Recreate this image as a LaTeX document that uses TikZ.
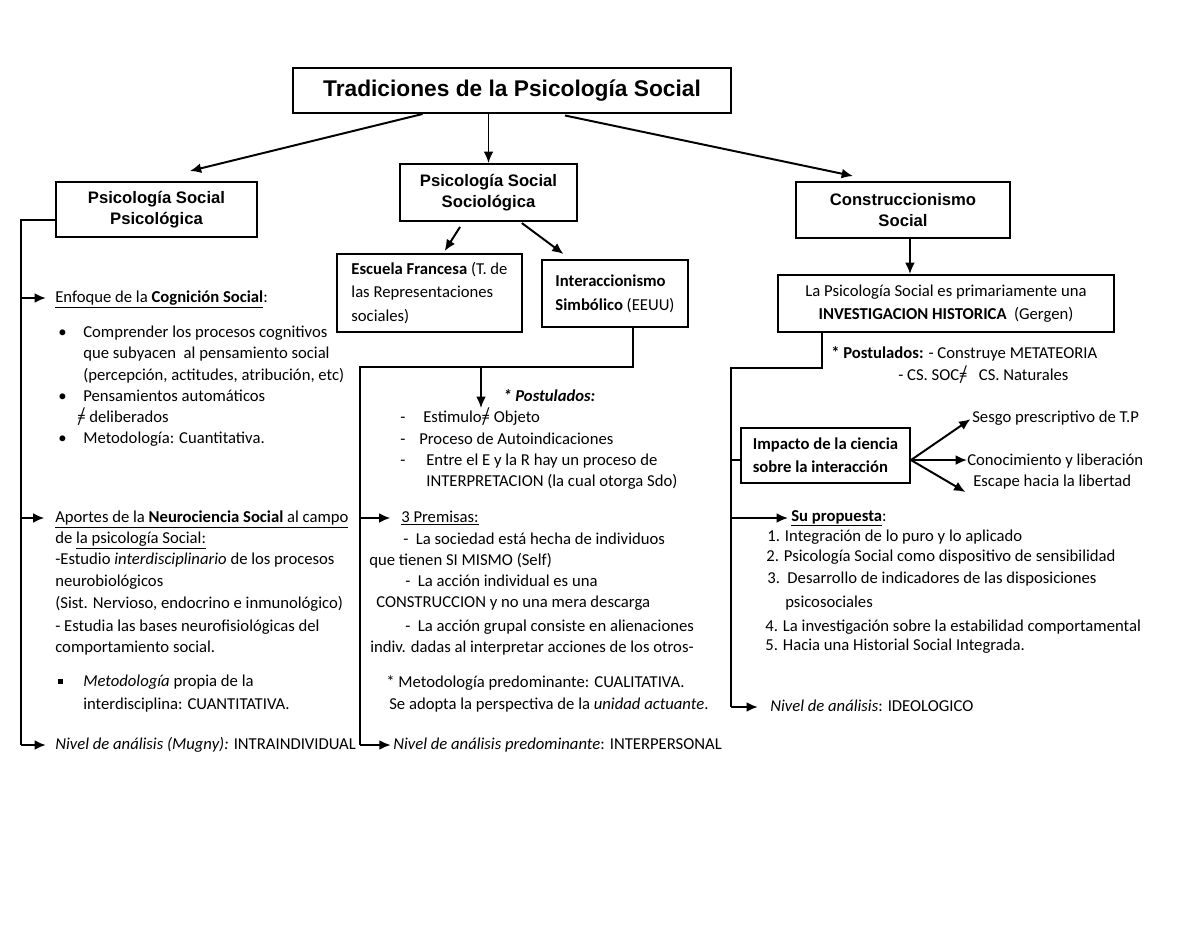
\documentclass[tikz,border=0pt]{standalone}
\usepackage{fontspec}
\setmainfont{Carlito}
\newfontfamily\arialf{Liberation Sans}
\usetikzlibrary{arrows.meta}
\newcommand\neqs{\ooalign{=\cr\hidewidth\raisebox{-1.8pt}{\scalebox{1.1}[1.45]{/}}\hidewidth\cr}}
\newcommand\sqbul{\rule[1.5pt]{3.2pt}{3.2pt}}
\begin{document}
\begin{tikzpicture}[x=0.66pt,y=-0.66pt,
  ln/.style={line width=1.3pt},
  arr/.style={line width=1.3pt,-{Latex[length=7.5pt,width=6.5pt]}},
  box/.style={draw,line width=1.3pt,inner sep=0pt},
  sz/.style 2 args={minimum width=#1*0.66pt,minimum height=#2*0.66pt},
  hdr/.style={box,font=\arialf\bfseries\fontsize{11}{14}\selectfont,align=center},
  inbox/.style={box,font=\fontsize{11}{15.5}\selectfont,align=left},
  txt/.style={anchor=base west,inner sep=0pt,font=\fontsize{11}{13}\selectfont},
]
\useasboundingbox (0,0) rectangle (1200,927);

% ---------- boxes ----------
\node[box,sz={438}{45},font=\arialf\bfseries\fontsize{15}{18}\selectfont] (title) at (512,90.5) {Tradiciones de la Psicología Social};
\node[hdr,sz={201}{55}] (psp) at (156.5,209.5) {Psicología Social\\Psicológica};
\node[hdr,sz={177}{57}] (pss) at (488.5,192.5) {Psicología Social\\Sociológica};
\node[hdr,sz={214}{56}] (cs) at (903,210) {Construccionismo\\Social};
\node[inbox,sz={185}{78}] (ef) at (429.5,293) {\textbf{Escuela Francesa} (T. de\\las Representaciones\\sociales)};
\node[inbox,sz={146}{67},font=\fontsize{11}{15.8}\selectfont] (int) at (615,293.5) {\textbf{Interaccionismo}\\\textbf{Simbólico} (EEUU)};
\node[box,sz={336}{57},align=center,font=\fontsize{11}{15.2}\selectfont] (lps) at (946,303.5) {La Psicología Social es primariamente una\\\textbf{INVESTIGACION HISTORICA}\ \ (Gergen)};
\node[inbox,sz={169}{55},font=\bfseries\fontsize{11}{15}\selectfont] (imp) at (825.5,455.5) {Impacto de la ciencia\\sobre la interacción};

% ---------- left column texts ----------
\node[txt] (enf) at (55,302) {\underline{Enfoque de la \textbf{Cognición Social}}:};
\node[txt] (bu1) at (58,337) {•};
\node[txt] (l1) at (83,337) {Comprender los procesos cognitivos};
\node[txt] (l2) at (83,358) {que subyacen\ \ al pensamiento social};
\node[txt] (l3) at (83,380) {(percepción, actitudes, atribución, etc)};
\node[txt] (bu2) at (58,401) {•};
\node[txt] (l4) at (83,401) {Pensamientos automáticos};
\node[txt] (l5) at (77,422) {\neqs\ deliberados};
\node[txt] (bu3) at (58,443) {•};
\node[txt] (l6) at (83,443) {Metodología: Cuantitativa.};

\node[txt] (apo) at (55,522) {\underline{Aportes de la \textbf{Neurociencia Social} al campo}};
\node[txt] (a2) at (55,543) {de \underline{la psicología Social:}};
\node[txt] (a3) at (55,564) {-Estudio \textit{interdisciplinario} de los procesos};
\node[txt] (a4) at (55,586) {neurobiológicos};
\node[txt] (a5) at (55,608) {(Sist. Nervioso, endocrino e inmunológico)};
\node[txt] (a6) at (55,631) {- Estudia las bases neurofisiológicas del};
\node[txt] (a7) at (55,652) {comportamiento social.};
\node[txt] (bu4) at (58,686) {\sqbul};
\node[txt] (a8) at (83,686) {\textit{Metodología} propia de la};
\node[txt] (a9) at (83,709) {interdisciplina: CUANTITATIVA.};
\node[txt] (niv1) at (55,749) {\textit{Nivel de análisis (Mugny):} INTRAINDIVIDUAL};

% ---------- middle column texts ----------
\node[txt] (post) at (503,401) {\textbf{\textit{* Postulados:}}};
\node[txt] (d1) at (400,422) {-};
\node[txt] (m1) at (423,422) {Estimulo\neqs\ Objeto};
\node[txt] (d2) at (400,444) {-};
\node[txt] (m2) at (419,444) {Proceso de Autoindicaciones};
\node[txt] (d3) at (400,465) {-};
\node[txt] (m3) at (426,465) {Entre el E y la R hay un proceso de};
\node[txt] (m4) at (426,486) {INTERPRETACION (la cual otorga Sdo)};

\node[txt] (prem) at (401,522) {\underline{3 Premisas:}};
\node[txt] (p1) at (403,544) {-\ \ La sociedad está hecha de individuos};
\node[txt] (p2) at (369,565) {que tienen SI MISMO (Self)};
\node[txt] (p3) at (405,586) {-\ \ La acción individual es una};
\node[txt] (p4) at (376,607) {CONSTRUCCION y no una mera descarga};
\node[txt] (p5) at (405,631) {-\ \ La acción grupal consiste en alienaciones};
\node[txt] (p6) at (370,652) {indiv. dadas al interpretar acciones de los otros-};
\node[txt] (p7) at (386,687) {* Metodología predominante: CUALITATIVA.};
\node[txt] (p8) at (389,709) {Se adopta la perspectiva de la \textit{unidad actuante}.};
\node[txt] (niv2) at (393,749) {\textit{Nivel de análisis predominante}: INTERPERSONAL};

% ---------- right column texts ----------
\node[txt] (rp1) at (831,358) {\textbf{* Postulados:} - Construye METATEORIA};
\node[txt] (rp2) at (898,380) {- CS. SOC\neqs\ \ \ CS. Naturales};
\node[txt] (ses) at (972,422) {Sesgo prescriptivo de T.P};
\node[txt] (con) at (967,465) {Conocimiento y liberación};
\node[txt] (esc) at (973,486) {Escape hacia la libertad};
\node[txt] (sup) at (791,521) {\underline{\textbf{Su propuesta}}:};
\node[txt] (s1) at (767,541) {1. Integración de lo puro y lo aplicado};
\node[txt] (s2) at (766,561) {2. Psicología Social como dispositivo de sensibilidad};
\node[txt] (s3) at (767,583) {3.\ \ Desarrollo de indicadores de las disposiciones};
\node[txt] (s3b) at (785,607) {psicosociales};
\node[txt] (s4) at (765,631) {4. La investigación sobre la estabilidad comportamental};
\node[txt] (s5) at (765,650) {5. Hacia una Historial Social Integrada.};
\node[txt] (niv3) at (770,711) {\textit{Nivel de análisis}: IDEOLOGICO};

% ---------- top connectors ----------
\draw[arr] ([xshift=-59pt]title.south) -- ([xshift=22pt,yshift=6.6pt]psp.north);
\draw[arr] (title.south -| pss.north) -- (pss.north);
\draw[arr] ([xshift=35pt,yshift=-1pt]title.south) -- ([xshift=-33pt,yshift=3.3pt]cs.north);
\draw[arr] ([xshift=-18.8pt,yshift=-3.3pt]pss.south) -- ([xshift=10pt,yshift=1.3pt]ef.north);
\draw[arr] ([xshift=22pt,yshift=-0.7pt]pss.south) -- ([xshift=-34pt,yshift=3.3pt]int.north);
\coordinate (cd) at ([xshift=4.6pt]cs.south);
\draw[arr] (cd) -- (cd |- lps.north);

% ---------- left trunk ----------
\coordinate (Lt) at (21,220);
\coordinate (L1) at (21,298);
\coordinate (L2) at (21,518);
\coordinate (Lb) at (21,745);
\draw[ln] (psp.west |- Lt) -- (Lt) -- (Lb);
\draw[arr,shorten >=6pt] (L1) -- (L1 -| enf.west);
\draw[arr,shorten >=7pt] (L2) -- (L2 -| apo.west);
\draw[arr,shorten >=6pt] (Lb) -- (Lb -| niv1.west);

% ---------- middle trunk ----------
\coordinate (Mi) at (633,367);
\coordinate (Mt) at (360,367);
\coordinate (Md) at (481,367);
\coordinate (Mdd) at (481,408);
\coordinate (M2) at (360,518);
\coordinate (Mb) at (360,745);
\draw[ln] (int.south -| Mi) -- (Mi) -- (Mt) -- (Mb);
\draw[arr] (Md) -- (Mdd);
\draw[arr,shorten >=7pt] (M2) -- (M2 -| prem.west);
\draw[arr,shorten >=1.5pt] (Mb) -- (Mb -| niv2.west);

% ---------- right trunk ----------
\coordinate (Ri) at (822,368);
\coordinate (Rt) at (731,368);
\coordinate (R1) at (731,460);
\coordinate (R2) at (731,518);
\coordinate (Rb) at (731,707);
\draw[ln] (lps.south -| Ri) -- (Ri) -- (Rt) -- (Rb);
\draw[ln] (R1) -- (R1 -| imp.west);
\draw[arr,shorten >=2pt] (R2) -- (R2 -| sup.west);
\draw[arr,shorten >=8pt] (Rb) -- (Rb -| niv3.west);

% ---------- impacto branches ----------
\coordinate (Io) at ([yshift=-3pt]imp.east);
\draw[arr] (Io) -- ([xshift=-1pt,yshift=-1pt]ses.west);
\draw[arr] (Io) -- (Io -| con.west);
\draw[arr] (Io) -- ([xshift=-5pt,yshift=-2pt]esc.south west);
\end{tikzpicture}
\end{document}
